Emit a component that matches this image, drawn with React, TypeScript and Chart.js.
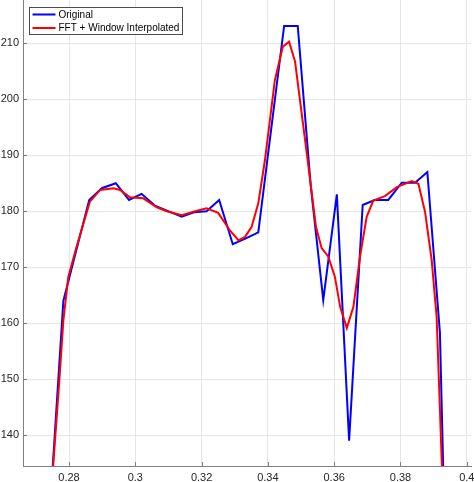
import { useEffect, useRef } from 'react';
import { Chart, registerables } from 'chart.js';

Chart.register(...registerables);

// Original signal samples
const origX = [0.2744, 0.2783, 0.2822, 0.2861, 0.2899, 0.2941, 0.2981, 0.3019, 0.3059, 0.3099, 0.3140, 0.3177, 0.3215, 0.3253, 0.3294, 0.3332, 0.3371, 0.3410, 0.3449, 0.3490, 0.3529, 0.3567, 0.3608, 0.3645, 0.3686, 0.3722, 0.3763, 0.3804, 0.3844, 0.3881, 0.3919, 0.3959];
const origY = [128, 164.0, 173.0, 182.0, 184.1, 185.0, 182.0, 183.1, 181.0, 180.0, 179.0, 179.8, 180.0, 182.0, 174.1, 175.1, 176.2, 194.7, 213.1, 213.1, 184.7, 164.1, 183.0, 139.0, 181.1, 182.0, 182.0, 185.1, 185.1, 187.0, 158.2, 60];

// FFT + window interpolated signal
const interpX = [0.2743, 0.2771, 0.2783, 0.2798, 0.2823, 0.2863, 0.2894, 0.2934, 0.2954, 0.2984, 0.3024, 0.3065, 0.3095, 0.3140, 0.3175, 0.3215, 0.3250, 0.3286, 0.3311, 0.3331, 0.3351, 0.3371, 0.3391, 0.3421, 0.3445, 0.3464, 0.3482, 0.3520, 0.3545, 0.3562, 0.3582, 0.3602, 0.3618, 0.3638, 0.3658, 0.3678, 0.3698, 0.3718, 0.3753, 0.3789, 0.3834, 0.3854, 0.3874, 0.3894, 0.3909, 0.3919, 0.3937];
const interpY = [127, 149.9, 160.5, 168.3, 173.7, 181.7, 183.8, 184.1, 183.8, 182.5, 182.3, 180.7, 180.0, 179.3, 179.9, 180.5, 179.7, 176.5, 174.8, 175.4, 177.2, 181.4, 189.1, 203.4, 209.4, 210.3, 206.7, 189.1, 177.2, 173.4, 171.9, 168.3, 162.9, 159.1, 162.9, 171.9, 179.0, 181.9, 182.7, 184.3, 185.4, 184.9, 179.9, 171.3, 161.1, 144.5, 114];

const seriesLabels = ['Original', 'FFT + Window Interpolated'];
const seriesColors = ['#0000ff', '#ff0000'];

const xTicks = [0.28, 0.3, 0.32, 0.34, 0.36, 0.38, 0.4];
const yTicks = [140, 150, 160, 170, 180, 190, 200, 210];
const xRange = [0.26612, 0.40127];
const yRange = [134.46, 217.74];

const AXIS_COLOR = '#808080';
const GRID_COLOR = '#e6e6e6';
const LABEL_COLOR = '#262626';

export default function App() {
  const ref = useRef<HTMLCanvasElement>(null);

  useEffect(() => {
    if (!ref.current) return;
    const toPts = (xs: number[], ys: number[]) => xs.map((x, i) => ({ x, y: ys[i] }));
    const font = { family: "'Liberation Sans', Arial, Helvetica, sans-serif", size: 11 };

    const insideTicks = {
      id: 'insideTicks',
      afterDraw(chart: any) {
        const { ctx, chartArea } = chart;
        const xs = chart.scales.x;
        const ys = chart.scales.y;
        ctx.save();
        ctx.strokeStyle = AXIS_COLOR;
        ctx.lineWidth = 1;
        ctx.beginPath();
        xTicks.forEach((v) => {
          const px = Math.round(xs.getPixelForValue(v)) + 0.5;
          ctx.moveTo(px, chartArea.bottom);
          ctx.lineTo(px, chartArea.bottom - 4);
        });
        yTicks.forEach((v) => {
          const py = Math.round(ys.getPixelForValue(v)) + 0.5;
          ctx.moveTo(chartArea.left, py);
          ctx.lineTo(chartArea.left + 4, py);
        });
        ctx.stroke();
        ctx.restore();
      },
    };

    const legendBox = {
      id: 'matlabLegend',
      afterDraw(chart: any) {
        const { ctx, chartArea } = chart;
        const x0 = chartArea.left + 6.5;
        const y0 = 7.5;
        const w = 153;
        const h = 27;
        ctx.save();
        ctx.fillStyle = '#ffffff';
        ctx.fillRect(x0, y0, w, h);
        ctx.strokeStyle = '#4d4d4d';
        ctx.lineWidth = 1;
        ctx.strokeRect(x0, y0, w, h);
        ctx.font = "10px 'Liberation Sans', Arial, Helvetica, sans-serif";
        ctx.textBaseline = 'middle';
        ctx.textAlign = 'left';
        chart.data.datasets.forEach((ds: any, i: number) => {
          const cy = y0 + 7 + i * 13.5;
          ctx.strokeStyle = ds.borderColor;
          ctx.lineWidth = 2;
          ctx.beginPath();
          ctx.moveTo(x0 + 3, cy);
          ctx.lineTo(x0 + 26, cy);
          ctx.stroke();
          ctx.fillStyle = '#000000';
          ctx.fillText(ds.label, x0 + 29, cy + 0.5);
        });
        ctx.restore();
      },
    };

    const chart = new Chart(ref.current, {
      type: 'line',
      data: {
        datasets: [
          {
            label: seriesLabels[0],
            data: toPts(origX, origY),
            borderColor: seriesColors[0],
            backgroundColor: seriesColors[0],
            borderWidth: 2,
            pointRadius: 0,
            tension: 0,
            order: 1,
          },
          {
            label: seriesLabels[1],
            data: toPts(interpX, interpY),
            borderColor: seriesColors[1],
            backgroundColor: seriesColors[1],
            borderWidth: 2,
            pointRadius: 0,
            tension: 0,
            order: 0,
          },
        ],
      },
      options: {
        animation: false,
        responsive: false,
        events: [],
        layout: { padding: { left: 0, right: 3, top: 0, bottom: 0 } },
        plugins: { legend: { display: false }, tooltip: { enabled: false } },
        scales: {
          x: {
            type: 'linear',
            min: xRange[0],
            max: xRange[1],
            afterBuildTicks: (s: any) => {
              s.ticks = xTicks.map((v) => ({ value: v }));
            },
            afterFit: (s: any) => {
              s.height = 16;
              s.paddingLeft = 0;
              s.paddingRight = 0;
            },
            ticks: {
              font,
              color: LABEL_COLOR,
              padding: 5,
              maxRotation: 0,
              autoSkip: false,
              callback: (v: any) => String(Number(Number(v).toFixed(4))),
            },
            grid: { color: GRID_COLOR, drawTicks: false, lineWidth: 1 },
            border: { color: AXIS_COLOR, width: 1 },
          },
          y: {
            type: 'linear',
            min: yRange[0],
            max: yRange[1],
            afterBuildTicks: (s: any) => {
              s.ticks = yTicks.map((v) => ({ value: v }));
            },
            afterFit: (s: any) => {
              s.width = 23;
              s.paddingTop = 0;
              s.paddingBottom = 0;
            },
            ticks: {
              font,
              color: LABEL_COLOR,
              padding: 4,
              autoSkip: false,
              callback: (v: any) => String(v),
            },
            grid: { color: GRID_COLOR, drawTicks: false, lineWidth: 1 },
            border: { color: AXIS_COLOR, width: 1 },
          },
        },
      },
      plugins: [insideTicks, legendBox],
    } as any);
    return () => chart.destroy();
  }, []);

  return (
    <div style={{ position: 'fixed', left: 0, top: 0, width: 474, height: 482, overflow: 'hidden', background: '#ffffff' }}>
      <canvas ref={ref} width={474} height={482} style={{ display: 'block', width: 474, height: 482 }} />
    </div>
  );
}
